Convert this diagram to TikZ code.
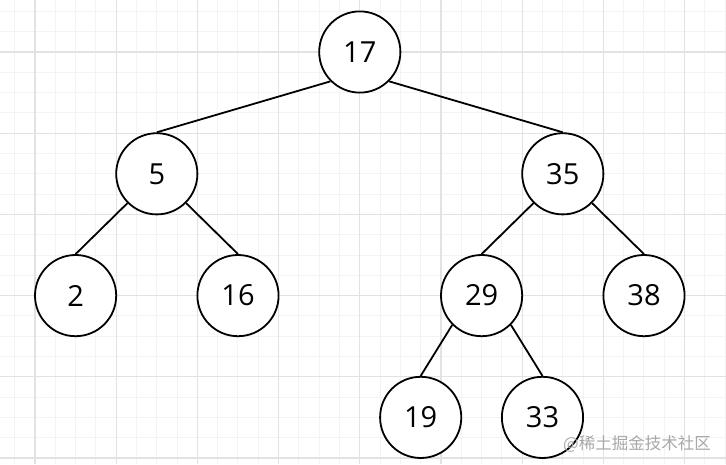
\documentclass[tikz,border=0pt]{standalone}
\usepackage{fontspec}
\setmainfont{Open Sans}
\newfontfamily\cjkfont{Noto Sans CJK SC}
\definecolor{gridminor}{HTML}{F3F3F3}
\definecolor{gridmajor}{HTML}{E2E2E2}
\definecolor{markgray}{HTML}{A8A8A8}
\begin{document}
\begin{tikzpicture}[x=20.3pt,y=-20.3pt,
    keynode/.style={circle,draw,fill=white,line width=1.8pt,minimum size=81.2pt,inner sep=0pt,
      font=\fontsize{29}{34}\selectfont},
    treeedge/.style={line width=1.8pt}]
            \def\xmin{-1.724}
            \def\xmax{34.04}
            \def\ymin{-2.562}
            \def\ymax{20.296}
            \useasboundingbox (\xmin,\ymin) rectangle (\xmax,\ymax);
            \fill[white] (\xmin,\ymin) rectangle (\xmax,\ymax);
            \foreach \i in {-1,...,34} \draw[gridminor,line width=1pt] (\i,\ymin) -- (\i,\ymax);
            \foreach \j in {-2,...,20} \draw[gridminor,line width=1pt] (\xmin,\j) -- (\xmax,\j);
            \foreach \i in {0,4,...,32} \draw[gridmajor,line width=1.2pt] (\i,\ymin) -- (\i,\ymax);
            \foreach \j in {0,4,...,20} \draw[gridmajor,line width=1.2pt] (\xmin,\j) -- (\xmax,\j);
            \node[keynode] (n17) at (16,0) {17};
            \node[keynode] (n5) at (6,6) {5};
            \node[keynode] (n35) at (26,6) {35};
            \node[keynode] (n2) at (2,12) {2};
            \node[keynode] (n16) at (10,12) {16};
            \node[keynode] (n29) at (22,12) {29};
            \node[keynode] (n38) at (30,12) {38};
            \node[keynode] (n19) at (19,18) {19};
            \node[keynode] (n33) at (25,18) {33};
            \draw[treeedge] (n17.south west) -- (n5.north);
            \draw[treeedge] (n17.south east) -- (n35.north);
            \draw[treeedge] (n5.south west) -- (n2.north);
            \draw[treeedge] (n5.south east) -- (n16.north);
            \draw[treeedge] (n35.south west) -- (n29.north);
            \draw[treeedge] (n35.south east) -- (n38.north);
            \draw[treeedge] (n29.south west) -- (n19.north);
            \draw[treeedge] (n29.south east) -- (n33.north);
            \node[anchor=base east,inner sep=0pt,text=markgray,font=\cjkfont\fontsize{16.5}{18}\selectfont]
              (mark) at (33.3,19.56) {@稀土掘金技术社区};
        \end{tikzpicture}
\end{document}
